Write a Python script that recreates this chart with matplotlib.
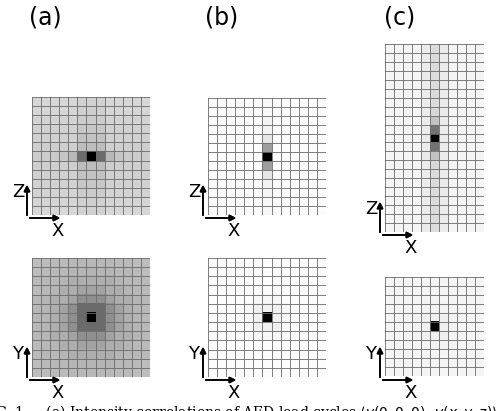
import numpy as np
import matplotlib.pyplot as plt

W, H = 500, 411

# grey levels (1 = white, 0 = black), by distance from the centre cell
a_top_row = [0.80, 0.80, 0.79, 0.77, 0.72, 0.42, 0.0, 0.42, 0.72, 0.77, 0.79, 0.80, 0.80]
a_top_col = [0.84, 0.83, 0.82, 0.80, 0.78, 0.76, 0.0, 0.76, 0.78, 0.80, 0.82, 0.83, 0.84]
a_bot_levels = [0.0, 0.42, 0.56, 0.64, 0.68, 0.71, 0.72, 0.73, 0.74, 0.75]
b_top_col = [0.97, 0.97, 0.96, 0.95, 0.90, 0.62, 0.0, 0.62, 0.90, 0.95, 0.96, 0.97, 0.97]
b_bg = 0.985
b_bot_levels = [0.0, 0.94, 0.97, 0.985]
c_top_col = [0.86, 0.86, 0.86, 0.86, 0.86, 0.86, 0.86, 0.84, 0.76, 0.45, 0.0,
             0.45, 0.76, 0.84, 0.86, 0.86, 0.86, 0.86, 0.86, 0.86, 0.86]
c_top_side = [0.96, 0.92, 0.86, 0.92, 0.96]   # columns 3..7 background
c_bg = 0.96
c_bot_levels = [0.0, 0.94, 0.95, 0.96]


def radial(n_r, n_c, levels):
    r0, c0 = n_r // 2, n_c // 2
    g = np.ones((n_r, n_c))
    for i in range(n_r):
        for j in range(n_c):
            d = int(round(np.hypot(i - r0, j - c0)))
            g[i, j] = levels[min(d, len(levels) - 1)]
    return g


def a_top():
    g = np.ones((13, 13))
    g[6, :] = a_top_row
    for i in range(13):
        if i != 6:
            g[i, :] = np.maximum(np.array(a_top_row), 0.80) + (0.84 - 0.80) * abs(i - 6) / 6
            g[i, 5:8] = a_top_col[i] - 0.02
    return g


def b_top():
    g = np.full((13, 13), b_bg)
    g[:, 6] = b_top_col
    return g


def c_top():
    g = np.full((21, 11), c_bg)
    for k, v in enumerate(c_top_side):
        g[:, 3 + k] = v
    g[:, 5] = c_top_col
    return g


fig = plt.figure(figsize=(W / 100, H / 100), dpi=100)
lw = 0.6


def panel(x0, y0, x1, y1, grid):
    ax = fig.add_axes([x0 / W, 1 - y1 / H, (x1 - x0) / W, (y1 - y0) / H])
    nr, nc = grid.shape
    ax.imshow(grid, cmap='gray', vmin=0, vmax=1, extent=(0, nc, nr, 0),
              aspect='auto', interpolation='nearest')
    for k in range(nc + 1):
        ax.axvline(k, color='#6a6a6a', lw=lw)
    for k in range(nr + 1):
        ax.axhline(k, color='#6a6a6a', lw=lw)
    ax.set_xlim(0, nc)
    ax.set_ylim(nr, 0)
    ax.axis('off')


def arrows(x, y, vlab):
    kw = dict(xycoords='figure pixels', textcoords='figure pixels',
              arrowprops=dict(arrowstyle='-|>', lw=1.2, color='black', mutation_scale=9))
    fy = H - y
    fig.add_artist(plt.annotate('', xy=(x, fy + 36), xytext=(x, fy), **kw))
    fig.add_artist(plt.annotate('', xy=(x + 36, fy), xytext=(x, fy), **kw))
    fig.text((x - 9) / W, (fy + 26) / H, vlab, fontsize=13, ha='center', va='center')
    fig.text((x + 31) / W, (fy - 13) / H, 'X', fontsize=13, ha='center', va='center')


panel(32, 97, 150, 215, a_top())
panel(32, 258, 150, 377, radial(13, 13, a_bot_levels))
panel(208, 98, 326, 215, b_top())
panel(208, 258, 326, 377, radial(13, 13, b_bot_levels))
panel(385, 44, 484, 232, c_top())
panel(385, 277, 484, 376, radial(11, 11, c_bot_levels))

arrows(27, 218, 'Z')
arrows(27, 380, 'Y')
arrows(203, 218, 'Z')
arrows(203, 380, 'Y')
arrows(380, 235, 'Z')
arrows(380, 380, 'Y')

for x, lab in [(45, '(a)'), (222, '(b)'), (400, '(c)')]:
    fig.text(x / W, 1 - 17 / H, lab, fontsize=17, ha='center', va='center')

fig.text(-0.01, 1 - 403 / H, 'G. 1.    (a) Intensity correlations of AFD load cycles '
         r'$\langle v(0,0,0),\, v(x,y,z)\rangle$ in 0.5',
         fontsize=10, family='DejaVu Serif', ha='left', va='top')

fig.savefig('out.png', dpi=100)
